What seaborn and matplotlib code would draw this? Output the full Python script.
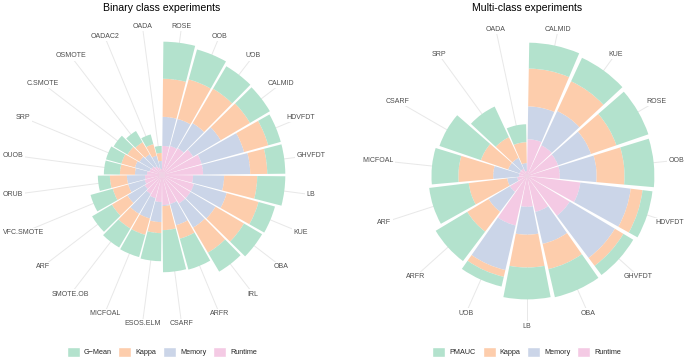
import numpy as np
import matplotlib
matplotlib.use("Agg")
import matplotlib.pyplot as plt
from matplotlib.patches import Patch
import seaborn as sns

# ---------------- data ----------------
bin_algos = ["ROSE", "OOB", "UOB", "CALMID", "HDVFDT", "GHVFDT", "LB", "KUE", "OBA", "IRL",
             "ARFR", "CSARF", "ESOS.ELM", "MICFOAL", "SMOTE.OB", "ARF", "VFC.SMOTE", "ORUB",
             "OUOB", "SRP", "C.SMOTE", "OSMOTE", "OADAC2", "OADA"]
bin_runtime = [29, 30, 31, 36, 41, 41, 31, 33, 33, 33, 30, 30, 27, 24, 22, 20, 18, 17, 15, 13, 12, 10, 8, 6]
bin_memory  = [29, 28, 29, 32, 44, 47, 31, 34, 29, 28, 22, 1, 20, 21, 23, 20, 17, 18, 12, 15, 14, 14, 12, 8]
bin_kappa   = [38, 41, 40, 34, 25, 17, 33, 33, 33, 29, 14, 24, 11, 17, 17, 18, 16, 17, 15, 14, 14, 14, 12, 8]
bin_gmean   = [37, 31, 26, 23, 13, 18, 28, 17, 21, 22, 32, 42, 28, 23, 22, 23, 23, 12, 16, 16, 16, 13, 10, 7]

multi_algos = ["CALMID", "KUE", "ROSE", "OOB", "HDVFDT", "GHVFDT", "OBA", "LB", "UOB",
               "ARFR", "ARF", "MICFOAL", "CSARF", "SRP", "OADA"]
multi_runtime = [37, 34, 33, 33, 54, 50, 37, 31, 51, 20, 10, 8, 8, 8, 5]
multi_memory  = [33, 38, 35, 37, 51, 53, 33, 28, 46, 25, 10, 26, 12, 12, 8]
multi_kappa   = [38, 33, 27, 28, 12, 10, 26, 33, 7, 25, 39, 35, 29, 23, 21]
multi_pmauc   = [26, 26, 34, 30, 10, 11.5, 29, 32, 10, 37, 40, 27, 44, 34, 18]

sns.set_theme(style="white")
plt.rcParams["font.family"] = ["Liberation Sans", "DejaVu Sans"]
pal = sns.color_palette("Pastel2", 4)  # green, orange, blue, pink

W, H = 685, 361
fig = plt.figure(figsize=(W / 100, H / 100), dpi=100)

def polar_panel(cx, cy, names, runtime, memory, kappa, top, top_name, title):
    R = 150
    ax = fig.add_axes([(cx - R) / W, (H - cy - R) / H, 2 * R / W, 2 * R / H], projection="polar")
    ax.set_theta_zero_location("N")
    ax.set_theta_direction(-1)
    n = len(names)
    slot = 2 * np.pi / n
    theta = (np.arange(n) + 0.5) * slot
    layers = [("Runtime", runtime, pal[3]), ("Memory", memory, pal[2]),
              ("Kappa", kappa, pal[1]), (top_name, top, pal[0])]
    bottom = np.zeros(n)
    for lab, vals, col in layers:
        vals = np.asarray(vals, float)
        ax.bar(theta, vals, width=slot * 0.92, bottom=bottom, color=col, linewidth=0, zorder=2)
        bottom = bottom + vals
    rmax = bottom.max()
    rlab = rmax * 0.45 / 0.4
    ax.set_ylim(0, rlab)
    ax.set_xticks(theta)
    ax.set_xticklabels([])
    ax.set_yticks([])
    ax.grid(False)
    ax.xaxis.grid(True, color="#E8E8E8", linewidth=0.7)
    ax.set_axisbelow(True)
    ax.tick_params(axis="x", length=0)
    ax.spines["polar"].set_visible(False)
    ax.set_facecolor("none")
    for th, name in zip(theta, names):
        ax.text(th, rlab, name, ha="center", va="center", fontsize=5.0, color="#4D4D4D",
                clip_on=False, zorder=5,
                bbox=dict(facecolor="white", edgecolor="none", pad=0.8))
    fig.text(cx / W, 1 - 8 / H, title, ha="center", va="center", fontsize=7.6, color="black")
    handles = [Patch(facecolor=pal[0], label=top_name.replace("-", "\u2212")),
               Patch(facecolor=pal[1], label="Kappa"),
               Patch(facecolor=pal[2], label="Memory"),
               Patch(facecolor=pal[3], label="Runtime")]
    fig.legend(handles=handles, loc="center", bbox_to_anchor=(cx / W, 1 - 352 / H), ncol=4,
               frameon=False, fontsize=5.2, handlelength=1.8, handleheight=1.8,
               handletextpad=0.6, columnspacing=0.9, borderpad=0, borderaxespad=0)
    return ax

polar_panel(162, 175, bin_algos, bin_runtime, bin_memory, bin_kappa, bin_gmean, "G-Mean",
            "Binary class experiments")
polar_panel(527, 176, multi_algos, multi_runtime, multi_memory, multi_kappa, multi_pmauc, "PMAUC",
            "Multi-class experiments")

fig.savefig("out.png", dpi=100, facecolor="white")
